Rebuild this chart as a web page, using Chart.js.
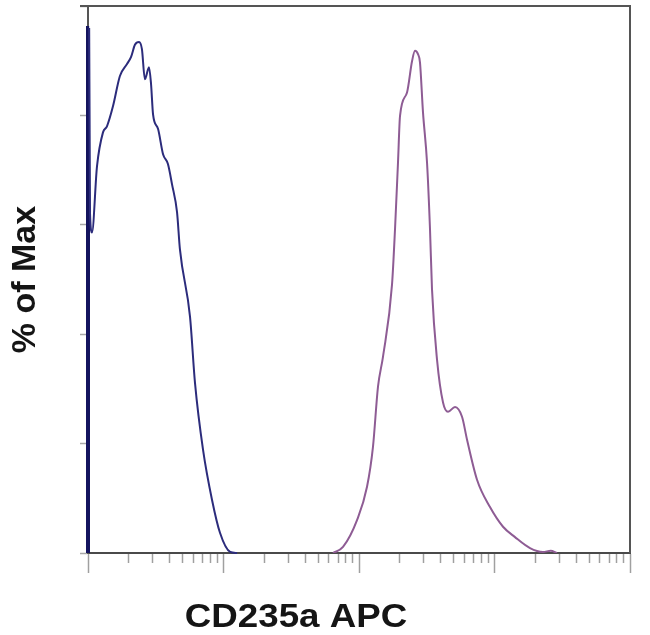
<!DOCTYPE html>
<html>
<head>
<meta charset="utf-8">
<script src="https://cdn.jsdelivr.net/npm/chart.js@4.4.1/dist/chart.umd.min.js"></script>
<style>
  html, body { margin: 0; padding: 0; background: #ffffff; }
  #wrap { width: 650px; height: 635px; position: relative; }
</style>
</head>
<body>
<div id="wrap"><canvas id="c"></canvas></div>
<script>
// Histogram 1 (unstained / control, navy)
const blueX = [1, 1, 1.02, 1.035, 1.07, 1.165, 1.29, 1.38, 1.53, 1.72, 1.94, 2.08, 2.22, 2.38, 2.50, 2.63, 2.82, 2.92, 3.02, 3.29, 3.58, 3.89, 4.17, 4.54, 4.77, 5.66, 6.16, 7.06, 8.23, 9.42, 11.2, 12.6];
const blueY = [0, 96, 96, 62, 58.6, 70.7, 76.9, 78.0, 81.7, 87.2, 89.4, 90.7, 92.9, 93.4, 92.1, 86.6, 88.8, 85.7, 80.2, 77.5, 72.9, 71.1, 67.4, 62.3, 55.5, 43.2, 31.1, 18.9, 9.7, 3.7, 0.2, 0];

// Histogram 2 (CD235a APC stained, purple)
const purpleX = [64.3, 76.2, 96.7, 114.6, 126.8, 138.1, 150.4, 175.3, 184.4, 194.0, 200.8, 226.2, 246.2, 259.0, 272.5, 281.8, 296.6, 317.7, 334.2, 345.8, 376.7, 417.0, 454.0, 511.2, 575.9, 627.2, 743.0, 926.3, 1156, 1417, 1828, 2280, 2600, 2892];
const purpleY = [0, 1.1, 6.0, 12.1, 19.4, 30.4, 35.9, 49.1, 59.2, 71.4, 79.9, 84.2, 89.9, 91.8, 91.2, 89.7, 80.6, 71.4, 59.2, 48.2, 35.3, 27.5, 25.8, 26.7, 24.9, 20.7, 13.4, 8.4, 4.8, 2.9, 0.9, 0.2, 0.4, 0];

// Axis ticks
const xMin = 1, xMax = 10000;
const xMajorTicks = [1, 10, 100, 1000, 10000];
const xMinorMult = [1, 2, 3, 4, 5, 6, 7, 8, 9];
const yTicks = [0, 20, 40, 60, 80, 100];

const xTitle = 'CD235a APC';
const yTitle = '% of Max';

const toPts = (xs, ys) => xs.map((x, i) => ({ x: x, y: ys[i] }));

const allXTicks = [];
xMajorTicks.forEach((d, i) => {
  if (i === xMajorTicks.length - 1) { allXTicks.push(d); return; }
  xMinorMult.forEach(m => allXTicks.push(d * m));
});

const frame = {
  id: 'frame',
  afterDatasetsDraw(chart) {
    const { ctx, chartArea: a } = chart;
    ctx.save();
    ctx.strokeStyle = '#555555';
    ctx.lineWidth = 2;
    ctx.beginPath();
    ctx.moveTo(a.left - 8, a.top);
    ctx.lineTo(a.right, a.top);
    ctx.lineTo(a.right, a.bottom);
    ctx.stroke();
    ctx.restore();
  },
  afterDraw(chart) {
    const ctx = chart.ctx;
    ctx.save();
    ctx.fillStyle = '#151515';
    ctx.font = 'bold 34px "Liberation Sans", Arial, sans-serif';
    ctx.textAlign = 'center';
    ctx.textBaseline = 'alphabetic';
    ctx.translate(296, 627);
    ctx.scale(1.08, 1);
    ctx.fillText(xTitle, 0, 0);
    ctx.restore();
  }
};

// the first-bin spike (segments starting at the first two points) is drawn heavier
const spikeWidth = ctx => (ctx.p0DataIndex <= 1 ? 4 : 2);
const spikeColor = ctx => (ctx.p0DataIndex <= 1 ? '#14145e' : '#2c2c7c');

new Chart(document.getElementById('c'), {
  type: 'line',
  data: {
    datasets: [
      {
        label: 'control',
        data: toPts(blueX, blueY),
        borderColor: '#2c2c7c',
        borderWidth: 2,
        segment: { borderWidth: spikeWidth, borderColor: spikeColor },
        pointRadius: 0,
        cubicInterpolationMode: 'monotone',
        fill: false,
        clip: false
      },
      {
        label: 'CD235a APC',
        data: toPts(purpleX, purpleY),
        borderColor: '#8e5c94',
        borderWidth: 2,
        pointRadius: 0,
        cubicInterpolationMode: 'monotone',
        fill: false
      }
    ]
  },
  options: {
    responsive: true,
    maintainAspectRatio: false,
    animation: false,
    layout: { padding: { left: 0, top: 6, right: 20, bottom: 0 } },
    plugins: { legend: { display: false }, tooltip: { enabled: false } },
    scales: {
      x: {
        type: 'logarithmic',
        position: 'bottom',
        weight: 0,
        min: xMin, max: xMax,
        afterBuildTicks: s => { s.ticks = allXTicks.map(v => ({ value: v })); },
        afterFit: s => { s.height = 10; },
        ticks: { display: false },
        grid: { drawOnChartArea: false, tickLength: 10, tickColor: '#a0a0a0', tickWidth: 1.5 },
        border: { display: true, color: '#4a4a4a', width: 2 }
      },
      xMajor: {
        type: 'logarithmic',
        position: 'bottom',
        weight: 1,
        min: xMin, max: xMax,
        afterBuildTicks: s => { s.ticks = xMajorTicks.map(v => ({ value: v })); },
        afterFit: s => { s.height = 72; },
        ticks: { display: false },
        grid: { drawOnChartArea: false, tickLength: 10, tickColor: '#a0a0a0', tickWidth: 1.5 },
        border: { display: false }
      },
      y: {
        type: 'linear',
        min: 0, max: 100,
        afterBuildTicks: s => { s.ticks = yTicks.map(v => ({ value: v })); },
        afterFit: s => { s.width = 88; },
        ticks: { display: false },
        grid: { drawOnChartArea: false, tickLength: 8, tickColor: '#a8a8a8', tickWidth: 1.5 },
        border: { display: true, color: '#555555', width: 2 },
        title: {
          display: true,
          text: yTitle,
          color: '#151515',
          font: { family: '"Liberation Sans", Arial, sans-serif', size: 34, weight: 'bold' },
          padding: { top: 5, bottom: 0 }
        }
      }
    }
  },
  plugins: [frame]
});
</script>
</body>
</html>
